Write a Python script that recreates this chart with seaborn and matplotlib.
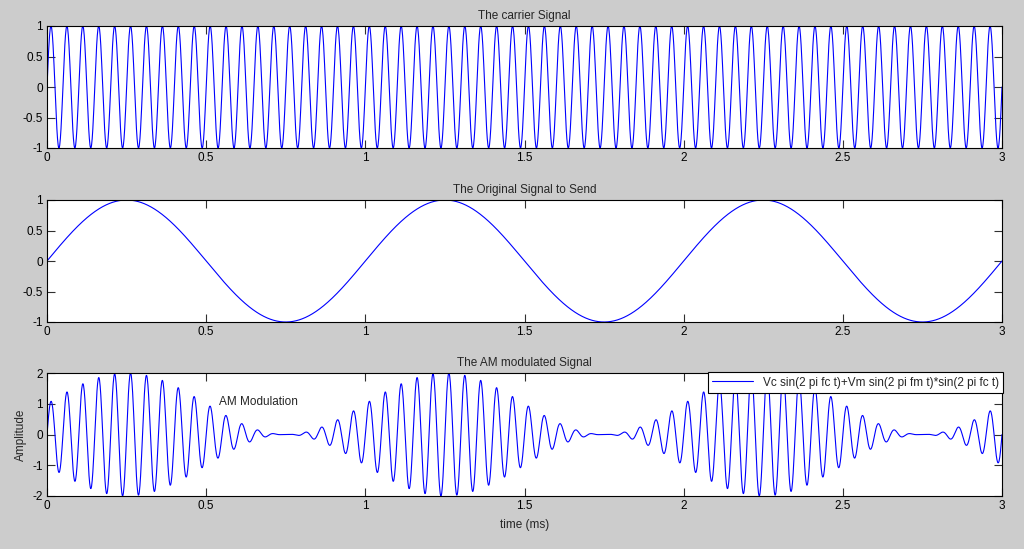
import numpy as np
import pandas as pd
import matplotlib
matplotlib.use("Agg")
import matplotlib.pyplot as plt
import seaborn as sns

# signal parameters
fc = 20        # carrier cycles per ms (10 peaks per 0.5 ms)
fm = 1         # message cycles per ms
Vc = 1.0       # carrier amplitude
Vm = 1.0       # message amplitude
t_start, t_stop, t_step = 0.0, 3.0, 0.001

x_ticks = [0, 0.5, 1, 1.5, 2, 2.5, 3]
x_tick_labels = ["0", "0.5", "1", "1.5", "2", "2.5", "3"]
y_ticks_small = [-1, -0.5, 0, 0.5, 1]
y_labels_small = ["-1", "-0.5", "0", "0.5", "1"]
y_ticks_am = [-2, -1, 0, 1, 2]
y_labels_am = ["-2", "-1", "0", "1", "2"]

titles = ["The carrier Signal", "The Original Signal to Send", "The AM modulated Signal"]
legend_label = "Vc sin(2 pi fc t)+Vm sin(2 pi fm t)*sin(2 pi fc t)"

t = np.arange(t_start, t_stop + t_step / 2, t_step)
carrier = Vc * np.sin(2 * np.pi * fc * t)
message = Vm * np.sin(2 * np.pi * fm * t)
am = Vc * np.sin(2 * np.pi * fc * t) + Vm * np.sin(2 * np.pi * fm * t) * np.sin(2 * np.pi * fc * t)

df = pd.DataFrame({"t": t, "carrier": carrier, "message": message, "am": am})

sns.set_style("white")
plt.rcParams["font.family"] = ["Liberation Sans", "DejaVu Sans"]
fs = 8.5

fig = plt.figure(figsize=(10.24, 5.49), dpi=100, facecolor="#cccccc")

W, H = 1024, 549
boxes = [(47, 26, 1002, 148), (47, 200, 1002, 322), (47, 373, 1002, 496)]
axes = []
for (l, top, r, b) in boxes:
    ax = fig.add_axes([l / W, 1 - b / H, (r - l) / W, (b - top) / H])
    axes.append(ax)

cols = ["carrier", "message", "am"]
for i, ax in enumerate(axes):
    sns.lineplot(data=df, x="t", y=cols[i], ax=ax, color="blue", linewidth=0.8,
                 estimator=None, label=legend_label if i == 2 else None, legend=False)
    ax.set_xlim(0, 3)
    ax.set_xticks(x_ticks)
    ax.set_xticklabels(x_tick_labels)
    if i < 2:
        ax.set_ylim(-1, 1)
        ax.set_yticks(y_ticks_small)
        ax.set_yticklabels(y_labels_small)
    else:
        ax.set_ylim(-2, 2)
        ax.set_yticks(y_ticks_am)
        ax.set_yticklabels(y_labels_am)
    ax.set_title(titles[i], fontsize=fs, pad=5)
    ax.set_xlabel("")
    ax.set_ylabel("")
    ax.tick_params(direction="in", top=True, right=True, bottom=True, left=True,
                   length=6, width=0.8, labelsize=fs, colors="#303030",
                   labelcolor="black", pad=3)
    for s in ax.spines.values():
        s.set_color("black")
        s.set_linewidth(0.8)
    ax.set_facecolor("white")

ax = axes[2]
ax.set_xlabel("time (ms)", fontsize=fs, labelpad=5)
ax.set_ylabel("Amplitude", fontsize=fs, labelpad=4)
ax.text(0.54, 1.05, "AM Modulation", fontsize=fs, va="center", ha="left")
leg = ax.legend(loc="upper right", bbox_to_anchor=(1.001, 1.005), fontsize=fs,
                frameon=True, fancybox=False, edgecolor="black", framealpha=1,
                borderaxespad=0, handlelength=3.5, borderpad=0.35)
leg.get_frame().set_linewidth(0.8)

fig.savefig("out.png", dpi=100, facecolor=fig.get_facecolor())
